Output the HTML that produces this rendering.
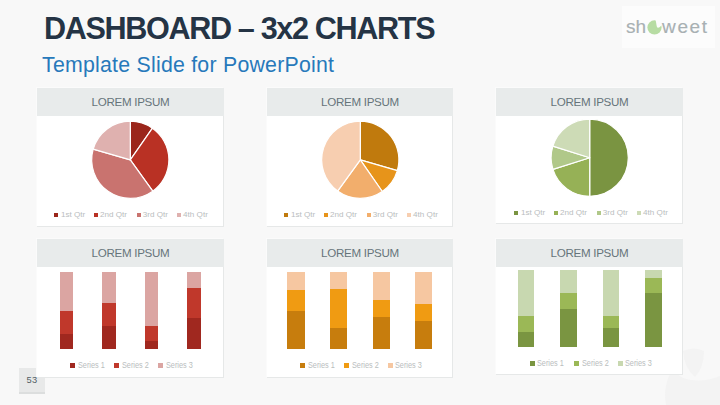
<!DOCTYPE html>
<html><head><meta charset="utf-8"><style>
*{margin:0;padding:0;box-sizing:border-box}
html,body{width:720px;height:405px;overflow:hidden;background:#f8f8f8;font-family:"Liberation Sans",sans-serif}
#t1{position:absolute;left:44px;top:11.3px;font-size:30.6px;letter-spacing:-1.35px;font-weight:bold;color:#253445;white-space:nowrap;line-height:34px;text-shadow:0 0 1.5px #fff,0 0 1px #fff}
#t2{position:absolute;left:42px;top:52.5px;font-size:21.3px;letter-spacing:0.24px;color:#2779bb;white-space:nowrap;line-height:24px}
.pb{position:absolute;background:#fff;border-right:1px solid #e6e8e8;border-bottom:1px solid #e6e8e8;box-shadow:-1px -1px 0 #fbfbfb}
.ph{position:absolute;background:#e8ebeb;text-align:center;color:#66747a;font-size:11.6px;letter-spacing:-0.3px;line-height:27.5px}
.lg{position:absolute;color:#b9bdbe;white-space:nowrap;line-height:10px;transform-origin:0 0}
#pn{position:absolute;left:19px;top:368px;width:26px;height:26px;background:#e8e9e9;border-bottom:2px solid #dcdede}
#pn span{position:absolute;left:7.6px;top:7px;font-size:9.3px;color:#535e65;letter-spacing:0.2px}
#logo{position:absolute;left:621.5px;top:6px;width:93.25px;height:42px;background:#fcfcfc}
</style></head><body>
<div id="t1">DASHBOARD – 3x2 CHARTS</div>
<div id="t2">Template Slide for PowerPoint</div>
<div id="logo"><svg width="93.25" height="42" viewBox="0 0 93.25 42"><text x="4.1" y="27.2" font-family="Liberation Sans" font-size="19" fill="#a8b0b3" stroke="#a8b0b3" stroke-width="0.15">sh</text><circle cx="32.5" cy="21.4" r="7.1" fill="#b7dca3"/><path d="M33.3 12.7 C34.5 17.7 34.5 20.7 35.3 21.6 C37 22.2 39 20.2 41 17.4 L41 11.2 Z" fill="#fcfcfc"/><text x="40.1" y="27.2" font-family="Liberation Sans" font-size="19" letter-spacing="1.6" fill="#a8b0b3" stroke="#a8b0b3" stroke-width="0.15">weet</text></svg></div>
<svg style="position:absolute;left:0;top:0" width="720" height="405"><circle cx="712" cy="395" r="47" fill="#f3f3f3"/><path d="M650 320 L720 320 L720 376 Q700 384 683 378 Q668 370 655 330 Z" fill="#f8f8f8"/><path d="M683 351 Q694 346 704 351 Q704 368 695 377 Q684 368 683 351Z" fill="#f3f3f3"/></svg><div id="pn"><span>53</span></div><div class="pb" style="left:37px;top:88px;width:187px;height:139px"></div><div class="ph" style="left:37px;top:88px;width:187px;height:27.5px"><span>LOREM IPSUM</span></div><div class="pb" style="left:267px;top:88px;width:186px;height:139px"></div><div class="ph" style="left:267px;top:88px;width:186px;height:27.5px"><span>LOREM IPSUM</span></div><div class="pb" style="left:496px;top:88px;width:187px;height:136px"></div><div class="ph" style="left:496px;top:88px;width:187px;height:27.5px"><span>LOREM IPSUM</span></div><div class="pb" style="left:37px;top:239px;width:187px;height:138.6px"></div><div class="ph" style="left:37px;top:239px;width:187px;height:27.5px"><span>LOREM IPSUM</span></div><div class="pb" style="left:267px;top:239px;width:186px;height:138.6px"></div><div class="ph" style="left:267px;top:239px;width:186px;height:27.5px"><span>LOREM IPSUM</span></div><div class="pb" style="left:496px;top:239px;width:187px;height:135.5px"></div><div class="ph" style="left:496px;top:239px;width:187px;height:27.5px"><span>LOREM IPSUM</span></div><svg style="position:absolute;left:0;top:0" width="720" height="405"><path d="M130.30 159.80L130.30 121.20A38.6 38.6 0 0 1 152.44 128.18Z" fill="#9b261b" stroke="#fff" stroke-width="1.2" stroke-linejoin="round"/><path d="M130.30 159.80L152.44 128.18A38.6 38.6 0 0 1 152.77 191.19Z" fill="#b93124" stroke="#fff" stroke-width="1.2" stroke-linejoin="round"/><path d="M130.30 159.80L152.77 191.19A38.6 38.6 0 0 1 93.20 149.16Z" fill="#c9736f" stroke="#fff" stroke-width="1.2" stroke-linejoin="round"/><path d="M130.30 159.80L93.20 149.16A38.6 38.6 0 0 1 130.30 121.20Z" fill="#dfb1af" stroke="#fff" stroke-width="1.2" stroke-linejoin="round"/><path d="M360.30 159.80L360.30 121.20A38.6 38.6 0 0 1 397.33 170.70Z" fill="#c07a0d" stroke="#fff" stroke-width="1.2" stroke-linejoin="round"/><path d="M360.30 159.80L397.33 170.70A38.6 38.6 0 0 1 382.27 191.53Z" fill="#e7941a" stroke="#fff" stroke-width="1.2" stroke-linejoin="round"/><path d="M360.30 159.80L382.27 191.53A38.6 38.6 0 0 1 337.61 191.03Z" fill="#f2ae6c" stroke="#fff" stroke-width="1.2" stroke-linejoin="round"/><path d="M360.30 159.80L337.61 191.03A38.6 38.6 0 0 1 360.30 121.20Z" fill="#f7ceb0" stroke="#fff" stroke-width="1.2" stroke-linejoin="round"/><path d="M589.70 157.70L589.70 119.10A38.6 38.6 0 0 1 589.70 196.30Z" fill="#7a9441" stroke="#fff" stroke-width="1.2" stroke-linejoin="round"/><path d="M589.70 157.70L589.70 196.30A38.6 38.6 0 0 1 552.93 169.44Z" fill="#96b156" stroke="#fff" stroke-width="1.2" stroke-linejoin="round"/><path d="M589.70 157.70L552.93 169.44A38.6 38.6 0 0 1 552.87 146.16Z" fill="#b0c889" stroke="#fff" stroke-width="1.2" stroke-linejoin="round"/><path d="M589.70 157.70L552.87 146.16A38.6 38.6 0 0 1 589.70 119.10Z" fill="#cddbb6" stroke="#fff" stroke-width="1.2" stroke-linejoin="round"/></svg><div style="position:absolute;left:53.7px;top:212.6px;width:4.2px;height:4.2px;background:#9b261b"></div><div class="lg" style="left:61px;top:209.5px;font-size:8.1px;letter-spacing:0px;transform:scaleX(1)">1st Qtr</div><div style="position:absolute;left:93.9px;top:212.6px;width:4.2px;height:4.2px;background:#b93124"></div><div class="lg" style="left:100px;top:209.5px;font-size:8.1px;letter-spacing:0px;transform:scaleX(1)">2nd Qtr</div><div style="position:absolute;left:136.5px;top:212.6px;width:4.2px;height:4.2px;background:#c9736f"></div><div class="lg" style="left:142.7px;top:209.5px;font-size:8.1px;letter-spacing:0px;transform:scaleX(1)">3rd Qtr</div><div style="position:absolute;left:176.8px;top:212.6px;width:4.2px;height:4.2px;background:#dfb1af"></div><div class="lg" style="left:183.1px;top:209.5px;font-size:8.1px;letter-spacing:0px;transform:scaleX(1)">4th Qtr</div><div style="position:absolute;left:283.7px;top:212.6px;width:4.2px;height:4.2px;background:#c07a0d"></div><div class="lg" style="left:291px;top:209.5px;font-size:8.1px;letter-spacing:0px;transform:scaleX(1)">1st Qtr</div><div style="position:absolute;left:323.9px;top:212.6px;width:4.2px;height:4.2px;background:#e7941a"></div><div class="lg" style="left:330px;top:209.5px;font-size:8.1px;letter-spacing:0px;transform:scaleX(1)">2nd Qtr</div><div style="position:absolute;left:366.5px;top:212.6px;width:4.2px;height:4.2px;background:#f2ae6c"></div><div class="lg" style="left:372.7px;top:209.5px;font-size:8.1px;letter-spacing:0px;transform:scaleX(1)">3rd Qtr</div><div style="position:absolute;left:406.8px;top:212.6px;width:4.2px;height:4.2px;background:#f7ceb0"></div><div class="lg" style="left:413.1px;top:209.5px;font-size:8.1px;letter-spacing:0px;transform:scaleX(1)">4th Qtr</div><div style="position:absolute;left:513.7px;top:210.6px;width:4.2px;height:4.2px;background:#7a9441"></div><div class="lg" style="left:521px;top:207.5px;font-size:8.1px;letter-spacing:0px;transform:scaleX(1)">1st Qtr</div><div style="position:absolute;left:553.9px;top:210.6px;width:4.2px;height:4.2px;background:#96b156"></div><div class="lg" style="left:560px;top:207.5px;font-size:8.1px;letter-spacing:0px;transform:scaleX(1)">2nd Qtr</div><div style="position:absolute;left:596.5px;top:210.6px;width:4.2px;height:4.2px;background:#b0c889"></div><div class="lg" style="left:602.7px;top:207.5px;font-size:8.1px;letter-spacing:0px;transform:scaleX(1)">3rd Qtr</div><div style="position:absolute;left:636.8px;top:210.6px;width:4.2px;height:4.2px;background:#cddbb6"></div><div class="lg" style="left:643.1px;top:207.5px;font-size:8.1px;letter-spacing:0px;transform:scaleX(1)">4th Qtr</div><div style="position:absolute;left:59.6px;top:272px;width:13.3px;height:39px;background:#dba5a2"></div><div style="position:absolute;left:59.6px;top:311px;width:13.3px;height:23px;background:#c0382b"></div><div style="position:absolute;left:59.6px;top:334px;width:13.3px;height:15px;background:#a0281f"></div><div style="position:absolute;left:102.4px;top:272px;width:13.3px;height:30.80000000000001px;background:#dba5a2"></div><div style="position:absolute;left:102.4px;top:302.8px;width:13.3px;height:23.19999999999999px;background:#c0382b"></div><div style="position:absolute;left:102.4px;top:326px;width:13.3px;height:23px;background:#a0281f"></div><div style="position:absolute;left:145px;top:272px;width:13.3px;height:53.69999999999999px;background:#dba5a2"></div><div style="position:absolute;left:145px;top:325.7px;width:13.3px;height:15.5px;background:#c0382b"></div><div style="position:absolute;left:145px;top:341.2px;width:13.3px;height:7.800000000000011px;background:#a0281f"></div><div style="position:absolute;left:187.4px;top:272px;width:13.3px;height:15.699999999999989px;background:#dba5a2"></div><div style="position:absolute;left:187.4px;top:287.7px;width:13.3px;height:30.600000000000023px;background:#c0382b"></div><div style="position:absolute;left:187.4px;top:318.3px;width:13.3px;height:30.69999999999999px;background:#a0281f"></div><div style="position:absolute;left:287.3px;top:272px;width:17.3px;height:18.100000000000023px;background:#f6c7a1"></div><div style="position:absolute;left:287.3px;top:290.1px;width:17.3px;height:20.899999999999977px;background:#f09b12"></div><div style="position:absolute;left:287.3px;top:311px;width:17.3px;height:38px;background:#c77d0d"></div><div style="position:absolute;left:330px;top:272px;width:17.3px;height:17.399999999999977px;background:#f6c7a1"></div><div style="position:absolute;left:330px;top:289.4px;width:17.3px;height:38.5px;background:#f09b12"></div><div style="position:absolute;left:330px;top:327.9px;width:17.3px;height:21.100000000000023px;background:#c77d0d"></div><div style="position:absolute;left:373px;top:272px;width:17.3px;height:27.899999999999977px;background:#f6c7a1"></div><div style="position:absolute;left:373px;top:299.9px;width:17.3px;height:16.900000000000034px;background:#f09b12"></div><div style="position:absolute;left:373px;top:316.8px;width:17.3px;height:32.19999999999999px;background:#c77d0d"></div><div style="position:absolute;left:415px;top:272px;width:17.3px;height:31.899999999999977px;background:#f6c7a1"></div><div style="position:absolute;left:415px;top:303.9px;width:17.3px;height:17.100000000000023px;background:#f09b12"></div><div style="position:absolute;left:415px;top:321px;width:17.3px;height:28px;background:#c77d0d"></div><div style="position:absolute;left:517.8px;top:270px;width:16.5px;height:46px;background:#c8d8b0"></div><div style="position:absolute;left:517.8px;top:316px;width:16.5px;height:15.800000000000011px;background:#9bb856"></div><div style="position:absolute;left:517.8px;top:331.8px;width:16.5px;height:14.899999999999977px;background:#7a9541"></div><div style="position:absolute;left:560px;top:270px;width:16.5px;height:22.899999999999977px;background:#c8d8b0"></div><div style="position:absolute;left:560px;top:292.9px;width:16.5px;height:16.0px;background:#9bb856"></div><div style="position:absolute;left:560px;top:308.9px;width:16.5px;height:37.80000000000001px;background:#7a9541"></div><div style="position:absolute;left:602.8px;top:270px;width:16.5px;height:46px;background:#c8d8b0"></div><div style="position:absolute;left:602.8px;top:316px;width:16.5px;height:11.800000000000011px;background:#9bb856"></div><div style="position:absolute;left:602.8px;top:327.8px;width:16.5px;height:18.899999999999977px;background:#7a9541"></div><div style="position:absolute;left:645px;top:270px;width:16.5px;height:7.800000000000011px;background:#c8d8b0"></div><div style="position:absolute;left:645px;top:277.8px;width:16.5px;height:15.099999999999966px;background:#9bb856"></div><div style="position:absolute;left:645px;top:292.9px;width:16.5px;height:53.80000000000001px;background:#7a9541"></div><div style="position:absolute;left:70.2px;top:362.9px;width:5px;height:5px;background:#a0281f"></div><div class="lg" style="left:77.8px;top:359.7px;font-size:8.8px;letter-spacing:0px;transform:scaleX(0.83)">Series 1</div><div style="position:absolute;left:114.4px;top:362.9px;width:5px;height:5px;background:#c0382b"></div><div class="lg" style="left:121.6px;top:359.7px;font-size:8.8px;letter-spacing:0px;transform:scaleX(0.83)">Series 2</div><div style="position:absolute;left:158.1px;top:362.9px;width:5px;height:5px;background:#dba5a2"></div><div class="lg" style="left:165.6px;top:359.7px;font-size:8.8px;letter-spacing:0px;transform:scaleX(0.83)">Series 3</div><div style="position:absolute;left:300.1px;top:362.9px;width:5px;height:5px;background:#c77d0d"></div><div class="lg" style="left:307.7px;top:359.7px;font-size:8.8px;letter-spacing:0px;transform:scaleX(0.83)">Series 1</div><div style="position:absolute;left:343.9px;top:362.9px;width:5px;height:5px;background:#f09b12"></div><div class="lg" style="left:351.5px;top:359.7px;font-size:8.8px;letter-spacing:0px;transform:scaleX(0.83)">Series 2</div><div style="position:absolute;left:387.8px;top:362.9px;width:5px;height:5px;background:#f6c7a1"></div><div class="lg" style="left:395.3px;top:359.7px;font-size:8.8px;letter-spacing:0px;transform:scaleX(0.83)">Series 3</div><div style="position:absolute;left:529.7px;top:360.7px;width:5px;height:5px;background:#7a9541"></div><div class="lg" style="left:537.3px;top:357.5px;font-size:8.8px;letter-spacing:0px;transform:scaleX(0.83)">Series 1</div><div style="position:absolute;left:573.9px;top:360.7px;width:5px;height:5px;background:#9bb856"></div><div class="lg" style="left:581.5px;top:357.5px;font-size:8.8px;letter-spacing:0px;transform:scaleX(0.83)">Series 2</div><div style="position:absolute;left:617.8px;top:360.7px;width:5px;height:5px;background:#c8d8b0"></div><div class="lg" style="left:625.3px;top:357.5px;font-size:8.8px;letter-spacing:0px;transform:scaleX(0.83)">Series 3</div>
</body></html>
